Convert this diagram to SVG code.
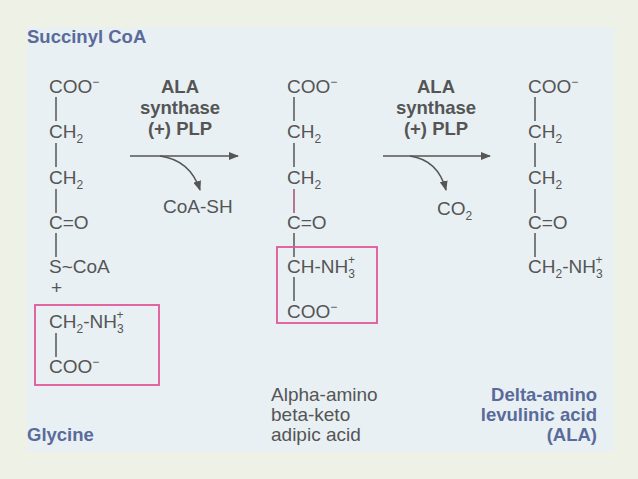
<svg xmlns="http://www.w3.org/2000/svg" width="638" height="479" viewBox="0 0 638 479">
<style>
text{font-family:"Liberation Sans",Arial,sans-serif;font-size:19px;fill:#555}
.b{font-weight:bold;fill:#5a6a9a;font-size:18.5px}
.e{font-weight:bold;fill:#555;text-anchor:middle;font-size:18.5px}
.l{stroke:#555;stroke-width:1.5;fill:none}
.box{stroke:#e0579a;stroke-width:1.8;fill:none}
.s{font-size:12px}
</style>
<defs><marker id="ah" markerWidth="10" markerHeight="8" refX="9" refY="4" orient="auto" markerUnits="userSpaceOnUse"><path d="M0,0 L10,4 L0,8 z" fill="#555"/></marker></defs>
<rect width="638" height="479" fill="#eef1e6"/>
<rect x="27" y="27" width="587" height="425" fill="#e8f0f4"/>
<text class="b" x="27" y="43">Succinyl CoA</text>
<g id="succinyl">
<text x="49" y="93">COO<tspan class="s" dy="-7">−</tspan></text>
<text x="49" y="138">CH<tspan class="s" dy="5">2</tspan></text>
<text x="49" y="184">CH<tspan class="s" dy="5">2</tspan></text>
<text x="49" y="229">C=O</text>
<text x="49" y="273">S~CoA</text>
<text x="51" y="294">+</text>
<path class="l" d="M56,97V121M56,143V167M56,189V213M56,233V257"/>
</g>
<g id="glycine">
<rect class="box" x="35" y="305" width="124" height="80"/>
<text x="49" y="328">CH<tspan class="s" dy="5">2</tspan><tspan dy="-5">-NH</tspan><tspan class="s" dy="5">3</tspan><tspan class="s" dx="-7" dy="-14">+</tspan></text>
<text x="49" y="373">COO<tspan class="s" dy="-7">−</tspan></text>
<path class="l" d="M56,333V357"/>
<text class="b" x="27" y="441">Glycine</text>
</g>
<g id="aabka">
<text x="287" y="93">COO<tspan class="s" dy="-7">−</tspan></text>
<text x="287" y="138">CH<tspan class="s" dy="5">2</tspan></text>
<text x="287" y="184">CH<tspan class="s" dy="5">2</tspan></text>
<text x="287" y="229">C=O</text>
<text x="287" y="273">CH-NH<tspan class="s" dy="5">3</tspan><tspan class="s" dx="-7" dy="-14">+</tspan></text>
<text x="287" y="318">COO<tspan class="s" dy="-7">−</tspan></text>
<path class="l" d="M294,97V121M294,143V167M294,233V257M294,277V301"/>
<path d="M294,189V213" stroke="#a05070" stroke-width="1.5"/>
<rect class="box" x="277" y="247" width="100" height="76"/>
<text x="271" y="401">Alpha-amino</text>
<text x="271" y="421">beta-keto</text>
<text x="271" y="441">adipic acid</text>
</g>
<g id="ala">
<text x="528" y="93">COO<tspan class="s" dy="-7">−</tspan></text>
<text x="528" y="138">CH<tspan class="s" dy="5">2</tspan></text>
<text x="528" y="184">CH<tspan class="s" dy="5">2</tspan></text>
<text x="528" y="229">C=O</text>
<text x="528" y="273">CH<tspan class="s" dy="5">2</tspan><tspan dy="-5">-NH</tspan><tspan class="s" dy="5">3</tspan><tspan class="s" dx="-7" dy="-14">+</tspan></text>
<path class="l" d="M535,97V121M535,143V167M535,189V213M535,233V257"/>
<text class="b" x="597" y="401" text-anchor="end">Delta-amino</text>
<text class="b" x="597" y="421" text-anchor="end">levulinic acid</text>
<text class="b" x="597" y="441" text-anchor="end">(ALA)</text>
</g>
<g id="enzymes">
<text class="e" x="180" y="93">ALA</text>
<text class="e" x="180" y="114">synthase</text>
<text class="e" x="180" y="135">(+) PLP</text>
<text x="163" y="213">CoA-SH</text>
<text class="e" x="436" y="93">ALA</text>
<text class="e" x="436" y="114">synthase</text>
<text class="e" x="436" y="135">(+) PLP</text>
<text x="437" y="215">CO<tspan class="s" dy="5">2</tspan></text>
</g>
<g id="connectors">
<path class="l" stroke-width="2.5" d="M130,156H238" marker-end="url(#ah)"/>
<path class="l" stroke-width="2.5" d="M160,156Q190,160 200,190" marker-end="url(#ah)"/>
<path class="l" stroke-width="2.5" d="M383,156H490" marker-end="url(#ah)"/>
<path class="l" stroke-width="2.5" d="M410,156Q438,160 446,190" marker-end="url(#ah)"/>
</g>
</svg>
